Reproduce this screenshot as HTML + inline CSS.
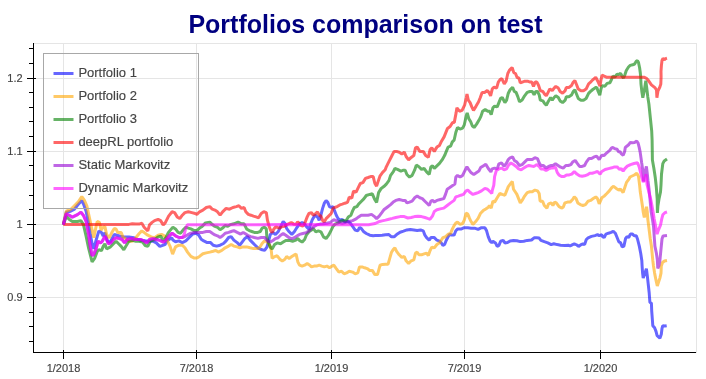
<!DOCTYPE html>
<html><head><meta charset="utf-8"><title>Portfolios comparison on test</title>
<style>html,body{margin:0;padding:0;background:#fff}svg{display:block}text{font-family:"Liberation Sans",Arial,Helvetica,sans-serif}</style></head><body>
<svg width="706" height="379" viewBox="0 0 706 379">
<rect width="706" height="379" fill="#fff"/>
<text x="365.5" y="32.9" text-anchor="middle" font-size="25px" font-weight="bold" fill="#000080">Portfolios comparison on test</text>
<g stroke="#e5e5e5" stroke-width="1" shape-rendering="crispEdges">
<line x1="63.5" y1="43.5" x2="63.5" y2="352.5"/>
<line x1="196.5" y1="43.5" x2="196.5" y2="352.5"/>
<line x1="331.5" y1="43.5" x2="331.5" y2="352.5"/>
<line x1="464.5" y1="43.5" x2="464.5" y2="352.5"/>
<line x1="600.5" y1="43.5" x2="600.5" y2="352.5"/>
<line x1="33.5" y1="78.5" x2="696.5" y2="78.5"/>
<line x1="33.5" y1="151.5" x2="696.5" y2="151.5"/>
<line x1="33.5" y1="224.5" x2="696.5" y2="224.5"/>
<line x1="33.5" y1="297.5" x2="696.5" y2="297.5"/>
<line x1="33.5" y1="43.5" x2="696.5" y2="43.5"/><line x1="696.5" y1="43.5" x2="696.5" y2="352.5"/>
</g>
<g fill="none" stroke-width="3" stroke-linejoin="bevel" stroke-linecap="butt">
<polyline stroke="rgba(0,0,255,0.6)" points="63.3,224.6 66.3,212.1 70.6,211.2 74.1,209.5 77.5,205.2 81.8,200.6 83.5,204.0 86.1,211.2 88.6,223.2 90.3,234.4 92.1,243.8 93.8,248.9 96.3,239.5 98.9,230.9 101.5,232.6 103.2,236.1 104.9,232.6 107.5,241.2 110.1,242.1 114.3,234.4 116.9,235.2 120.3,236.1 123.8,236.9 128.9,236.9 134.1,237.8 137.5,239.5 142.6,240.4 147.8,241.2 152.9,241.2 156.3,242.9 159.8,246.4 164.9,244.6 167.5,240.4 171.8,237.8 172.9,240.1 175.5,241.8 178.9,240.9 182.3,242.6 185.8,240.9 189.2,237.5 192.6,234.1 196.1,233.2 198.6,234.9 201.2,239.2 203.8,240.9 207.2,242.6 210.6,242.6 213.2,245.2 216.6,246.1 220.1,245.2 223.5,243.5 226.1,240.9 228.6,237.5 231.2,236.6 233.8,240.1 237.2,242.6 239.8,245.2 242.3,241.8 244.9,238.4 247.5,236.6 250.1,240.1 252.6,242.6 255.2,245.2 257.8,247.8 261.2,249.5 264.6,250.4 266.9,247.2 268.6,241.2 270.3,234.4 272.9,232.6 275.5,234.4 278.1,231.8 280.6,226.6 283.2,221.5 284.9,223.2 286.6,228.4 289.2,231.8 291.8,234.4 294.3,231.8 296.9,227.5 299.5,224.1 302.1,222.4 304.6,224.1 307.2,227.5 308.9,229.2 310.6,224.1 312.3,219.8 314.9,215.2 317.5,216.9 319.2,220.4 320.9,215.2 322.6,208.4 324.3,203.2 326.1,200.6 327.8,202.4 329.5,206.6 331.2,207.5 332.9,206.6 334.6,210.9 336.3,215.2 338.1,218.6 339.8,220.4 342.3,219.5 344.9,222.1 347.5,221.2 350.1,222.9 352.6,226.4 355.2,230.1 357.8,230.9 359.5,227.5 361.2,228.4 363.8,231.8 366.3,233.5 369.8,235.2 373.2,235.7 375.2,235.6 378.6,235.6 382.1,235.2 385.5,234.7 388.9,234.6 391.5,236.8 394.1,236.8 396.6,234.6 400.1,232.2 403.5,231.1 406.9,229.9 410.3,229.4 413.8,229.9 417.2,230.4 420.6,229.9 423.2,230.8 424.9,235.1 426.6,237.6 429.2,240.2 430.9,237.6 434.3,237.6 436.9,240.2 439.5,241.1 441.2,242.8 442.9,245.4 444.6,244.5 446.3,240.2 448.1,236.8 449.8,234.2 451.5,235.1 454.1,235.1 455.8,230.8 457.5,229.1 460.9,229.1 464.3,227.7 467.8,227.7 471.2,228.2 474.6,228.2 478.1,229.4 481.5,227.7 484.9,227.7 486.6,230.8 488.3,236.8 490.1,241.1 491.8,242.8 492.9,241.2 495.5,242.9 497.2,246.4 498.9,245.5 500.6,241.2 503.2,240.4 504.9,242.9 507.5,242.6 510.1,240.9 513.5,240.4 516.9,240.7 520.3,241.6 523.8,241.2 527.2,240.4 531.5,240.0 534.1,237.8 536.6,237.8 539.2,238.1 540.9,240.4 544.3,241.7 547.8,242.9 551.2,244.6 553.8,243.8 557.2,244.6 560.6,245.2 564.9,245.5 568.3,245.2 570.1,246.0 572.6,244.6 574.3,243.8 576.9,245.0 578.6,246.4 581.2,244.6 582.9,243.8 584.6,244.6 586.3,239.5 588.1,237.8 591.5,236.4 594.9,235.6 597.5,234.7 599.2,235.6 601.8,234.7 602.5,236.6 604.2,237.5 605.9,234.1 608.5,233.2 611.1,232.4 613.3,231.2 615.3,233.2 617.1,237.5 618.8,241.8 620.5,242.6 622.2,246.9 623.9,246.1 625.6,238.4 627.0,236.6 628.7,237.5 630.4,234.1 632.5,234.1 634.2,235.8 636.3,235.8 637.5,239.0 639.3,246.1 640.7,253.2 641.8,260.4 642.1,266.0 642.6,273.1 643.2,278.1 646.4,268.8 647.4,276.7 648.2,283.8 649.2,293.0 649.9,302.3 651.4,303.0 651.7,310.8 652.4,320.0 652.8,325.7 654.6,327.8 656.0,331.4 657.1,335.7 659.9,338.2 661.3,334.2 662.0,328.5 662.8,325.7 664.9,326.0 666.7,325.7"/>
<polyline stroke="rgba(255,165,0,0.6)" points="63.3,224.6 66.3,211.2 70.6,209.5 74.1,206.1 78.3,201.8 81.8,196.6 84.3,200.1 86.9,206.1 89.5,218.1 92.1,230.1 93.8,237.8 95.5,229.2 97.2,221.5 99.4,222.4 101.1,230.1 102.9,227.5 104.9,226.6 106.6,234.4 109.2,237.8 111.8,232.6 114.3,228.4 116.1,229.2 117.8,232.6 121.2,232.6 122.9,236.9 125.5,238.6 128.9,241.2 132.3,241.2 135.8,237.8 139.2,233.5 141.8,230.9 144.3,232.6 147.8,235.2 151.2,236.9 154.6,237.8 158.1,235.2 161.5,234.4 164.9,236.1 167.5,241.2 170.1,246.4 172.6,254.1 175.5,246.9 178.9,245.2 182.3,245.2 184.9,247.8 187.5,252.1 190.9,256.4 194.3,258.1 196.9,258.1 199.5,256.4 202.9,253.8 206.3,252.9 209.8,252.1 213.2,251.2 215.8,250.4 218.3,252.1 221.8,250.4 225.2,247.8 228.6,246.1 231.2,244.4 233.8,246.1 237.2,246.9 239.8,247.8 243.2,246.9 246.6,246.9 250.1,247.8 253.5,248.6 256.9,248.6 259.5,247.8 262.1,243.5 264.6,240.9 267.2,241.8 269.8,245.2 271.2,249.8 272.1,258.4 274.6,256.6 277.2,255.8 279.8,259.2 282.3,260.9 284.9,259.2 286.6,256.6 289.2,258.4 291.8,256.6 294.3,254.9 296.1,254.1 297.8,261.8 299.5,265.2 302.1,266.1 304.6,265.2 307.2,263.5 309.8,265.2 311.5,266.9 314.1,266.1 316.6,266.1 319.2,265.2 321.8,266.1 324.3,266.9 326.9,266.1 329.5,267.8 332.1,266.1 333.8,265.2 336.3,268.6 338.9,272.1 341.5,271.2 344.1,273.8 346.6,272.9 349.2,271.2 352.6,272.1 355.2,273.8 357.8,272.9 359.5,266.9 362.1,266.9 364.6,267.8 367.2,268.6 369.8,270.4 372.3,270.4 374.9,274.6 377.5,274.6 380.1,265.2 382.6,264.4 385.5,264.2 388.1,264.2 389.8,258.2 391.5,252.2 393.2,249.6 394.9,247.9 396.6,251.4 399.2,254.8 401.8,257.4 404.3,256.5 406.1,260.8 408.6,263.4 411.2,260.8 413.8,259.9 415.5,253.1 417.2,252.2 418.9,254.8 421.5,254.8 424.1,253.9 426.6,253.1 428.3,255.6 430.1,250.5 431.8,247.1 434.3,247.9 436.9,244.5 439.5,242.8 441.2,240.2 442.9,237.6 445.5,236.8 448.1,234.2 450.6,233.4 452.3,229.1 454.1,225.6 455.8,223.1 457.5,222.2 460.1,224.4 462.6,223.5 464.3,220.1 466.1,213.2 467.8,214.1 469.5,218.4 471.2,221.8 472.9,224.4 475.5,221.8 478.1,218.4 480.6,213.2 483.2,210.6 485.8,208.9 488.3,207.2 489.5,205.5 491.2,208.1 492.9,201.2 494.6,202.1 497.2,197.8 499.8,193.5 502.3,194.4 504.9,195.2 506.6,190.9 508.3,186.6 510.9,183.2 512.3,181.5 513.5,189.2 515.2,191.8 516.9,194.4 518.6,198.6 520.3,202.9 522.1,200.4 524.6,196.1 527.2,192.6 529.8,191.8 532.3,191.8 534.9,190.1 537.5,190.9 539.2,193.5 540.1,201.2 542.6,201.2 544.3,205.5 546.9,208.1 548.6,203.8 551.2,202.9 552.9,205.5 554.6,202.1 556.3,202.9 558.9,206.4 561.5,208.1 563.2,207.2 564.9,202.9 567.5,202.1 570.1,202.1 572.6,199.5 574.3,196.9 576.1,198.6 577.8,202.9 580.3,204.6 582.9,205.5 585.5,204.6 588.1,201.2 590.6,200.4 593.2,198.6 595.8,196.9 597.5,198.6 599.2,203.8 601.8,197.8 604.2,196.1 606.8,193.5 609.3,190.9 611.9,187.5 613.6,186.3 616.2,188.4 618.8,190.1 620.5,189.2 623.1,192.6 624.8,187.5 626.5,182.4 629.1,178.9 630.0,177.0 634.3,175.0 636.8,173.2 638.5,176.4 639.6,185.0 640.3,192.1 641.4,199.2 642.5,206.4 643.2,212.0 644.3,217.5 645.5,212.0 646.5,206.7 647.3,212.0 647.8,219.1 648.7,226.2 649.6,233.4 650.3,239.0 651.4,246.1 652.1,253.2 652.8,260.4 653.5,266.0 654.6,273.1 656.0,280.2 657.3,286.0 658.5,282.4 659.9,278.1 661.0,273.1 661.3,266.0 662.5,262.5 664.5,261.0 667.0,260.5"/>
<polyline stroke="rgba(0,128,0,0.6)" points="63.3,224.6 66.3,216.4 69.8,219.8 72.3,221.5 77.5,221.5 80.9,220.6 83.5,224.9 86.1,236.1 88.6,248.1 92.1,261.8 94.6,258.4 97.2,251.5 98.9,249.8 101.5,250.6 103.2,246.4 104.9,243.8 106.6,248.9 110.1,247.2 113.5,243.8 116.1,241.2 118.6,243.8 121.2,246.4 123.8,249.8 126.3,245.5 128.9,241.2 132.3,240.4 135.8,241.2 139.2,241.2 142.6,242.1 145.2,245.5 147.8,246.4 150.3,241.2 154.6,239.5 158.1,236.9 160.6,236.1 163.2,240.4 165.8,237.8 168.3,232.6 171.8,228.4 172.9,227.2 175.5,228.9 178.1,232.4 180.6,233.2 183.2,229.8 185.8,227.2 188.3,228.1 190.9,228.9 194.3,230.6 196.9,230.6 199.5,228.1 202.1,226.4 205.5,222.9 209.8,222.1 212.3,224.6 214.9,226.4 217.5,227.2 220.1,229.8 222.6,228.1 225.2,225.5 227.8,226.4 230.3,224.6 233.8,223.8 238.1,222.1 241.5,223.8 244.1,223.8 246.6,228.9 249.2,230.6 251.8,231.5 254.3,232.4 257.8,232.4 260.3,231.5 262.1,228.1 264.6,227.2 266.3,228.9 266.9,237.8 268.6,242.9 270.3,247.2 272.1,248.9 274.6,244.6 277.2,242.9 280.6,243.8 283.2,242.1 285.8,240.4 289.2,240.4 292.6,241.2 295.2,240.4 297.8,238.6 299.5,240.4 302.1,242.1 304.6,239.5 306.3,235.2 308.9,231.8 311.5,230.1 313.2,228.4 315.8,231.8 318.3,230.9 320.9,231.8 323.5,236.9 326.1,238.6 328.6,235.2 331.2,230.1 332.9,226.6 335.5,223.8 338.1,222.9 340.6,221.2 343.2,220.4 345.8,221.2 348.3,216.9 350.9,215.2 352.6,210.9 354.3,207.5 356.9,206.6 358.6,204.1 361.2,201.5 363.8,198.9 366.3,195.5 368.9,194.6 372.3,193.8 374.9,199.8 376.6,202.4 378.6,192.6 381.2,188.4 383.8,186.6 386.3,184.1 388.9,180.6 390.6,175.4 393.2,171.9 394.9,168.5 397.5,169.4 400.9,171.1 403.5,170.2 405.2,170.2 406.9,174.5 409.5,177.1 412.1,175.4 414.6,170.2 416.3,165.1 418.9,166.8 421.5,169.4 424.1,168.5 426.6,171.9 429.2,174.5 430.9,166.8 432.6,165.9 434.3,168.5 436.9,165.9 439.5,163.4 442.1,159.9 444.6,155.6 446.3,151.4 448.1,147.1 450.6,146.2 452.3,141.9 454.1,140.2 455.8,132.5 457.5,127.4 460.1,129.1 462.6,128.2 464.3,124.8 466.3,115.5 467.2,112.9 468.9,118.9 470.6,121.5 472.3,125.8 474.1,127.5 476.6,124.1 479.2,119.8 480.9,116.4 482.6,111.2 485.2,109.5 487.8,111.2 489.5,111.2 491.2,114.6 492.9,107.8 494.6,106.1 497.2,106.9 498.9,102.6 500.6,98.4 502.3,97.5 504.9,102.6 506.6,100.1 508.3,93.2 510.1,89.8 512.6,87.2 514.3,91.5 516.1,92.4 517.8,96.6 519.5,101.8 522.1,100.1 524.6,95.8 527.2,92.4 529.8,91.5 532.3,91.5 534.1,94.9 535.8,91.5 537.5,91.5 539.2,94.9 540.3,100.1 542.9,100.9 544.6,103.5 546.3,105.2 548.1,101.8 550.6,97.5 552.3,100.1 554.1,97.5 555.8,95.8 558.3,97.5 560.1,100.9 562.6,102.6 565.2,100.1 566.3,96.8 568.9,96.8 571.5,95.1 573.2,91.6 574.9,89.9 576.6,94.2 578.3,98.5 580.9,100.2 583.5,100.2 586.1,98.5 588.6,93.4 590.3,91.6 592.8,89.5 595.7,87.6 596.8,87.4 598.2,91.5 599.8,95.2 601.0,89.0 602.0,85.7 605.0,86.2 607.1,83.4 609.9,82.7 611.4,79.8 612.8,76.2 614.9,77.0 617.1,74.1 618.8,74.5 620.6,73.4 622.1,76.2 623.5,78.0 624.9,74.8 626.3,70.5 628.5,67.0 630.2,65.4 632.7,64.8 634.6,64.0 636.1,61.4 637.5,60.7 638.5,62.5 639.6,67.8 640.3,72.8 640.7,77.0 641.0,84.1 641.8,91.2 642.8,97.7 644.2,91.2 645.3,84.1 645.8,80.6 646.7,87.7 647.8,96.9 648.9,104.0 650.3,117.5 651.7,131.0 652.1,140.0 652.4,160.0 653.9,168.5 655.3,177.8 656.3,187.0 657.2,199.0 657.4,213.0 657.9,206.0 659.0,199.0 660.5,192.0 661.0,185.0 661.5,174.2 662.8,163.6 664.2,161.0 667.0,159.0"/>
<polyline stroke="rgba(255,0,0,0.6)" points="63.3,224.4 128.9,224.4 132.3,223.7 135.8,224.1 139.2,224.1 141.8,223.2 144.3,227.5 147.8,230.9 149.5,224.9 152.1,222.4 154.6,220.6 158.1,219.3 160.6,220.6 163.2,224.9 165.2,222.9 168.6,216.1 172.1,211.8 174.6,212.6 177.2,216.9 179.8,218.6 182.3,215.2 184.9,212.6 188.3,211.8 191.8,212.6 195.2,213.5 196.9,214.4 199.5,211.8 202.9,210.1 206.3,207.5 209.8,206.6 212.3,209.2 214.9,210.1 217.5,211.8 220.1,215.2 222.6,211.8 226.1,208.4 229.5,209.2 232.9,207.5 236.3,206.6 238.9,205.8 241.5,208.4 244.1,207.5 245.8,211.8 248.3,214.4 250.9,215.2 253.5,216.1 256.1,216.9 258.6,217.8 261.2,213.5 263.8,211.8 266.3,212.6 267.5,220.5 269.2,226.4 270.9,231.1 272.2,232.4 273.9,229.0 275.6,226.9 277.3,227.3 279.4,228.1 281.5,226.9 284.1,226.4 286.6,224.7 289.2,223.5 291.3,222.6 293.4,223.9 296.0,224.3 297.7,221.8 299.4,223.5 301.1,225.6 302.8,226.0 304.5,223.9 305.8,220.5 307.2,216.9 308.9,213.5 311.5,212.6 313.2,215.2 314.9,214.4 317.5,211.8 319.2,215.2 320.9,216.1 322.6,220.4 324.3,222.1 326.1,218.6 328.6,216.1 331.2,213.5 332.9,208.4 334.6,207.5 337.2,206.6 339.8,204.9 342.3,204.1 344.9,203.2 347.5,202.4 349.2,197.2 351.8,198.1 353.5,191.2 356.1,192.1 358.6,186.9 360.3,183.5 362.9,182.6 365.5,178.4 368.1,177.5 370.6,176.6 373.2,176.6 374.9,183.5 376.6,186.1 378.3,180.9 380.1,175.8 382.6,172.4 385.2,169.8 386.3,166.8 388.9,161.6 391.5,156.5 394.1,151.4 396.6,151.4 399.2,152.2 401.8,153.9 404.3,152.2 406.1,156.5 408.6,159.9 411.2,157.4 413.8,155.6 415.5,147.9 417.2,147.1 419.8,151.4 423.2,151.4 425.8,155.6 428.3,157.4 430.1,149.6 431.8,147.9 434.3,151.4 436.9,147.1 439.5,145.4 441.5,141.2 444.1,136.9 445.8,132.6 447.5,128.4 450.1,126.6 452.6,122.4 454.3,122.4 456.1,112.9 456.9,107.8 459.5,111.2 462.1,110.4 464.6,105.2 466.3,97.5 467.0,94.1 468.3,100.1 470.1,102.6 471.8,106.9 473.5,110.4 476.1,106.1 478.6,101.8 480.3,97.5 482.1,92.4 484.6,92.4 487.2,90.6 488.9,92.4 490.6,95.8 492.3,88.9 494.1,87.2 496.6,88.1 498.3,82.1 500.1,79.5 501.8,78.6 504.3,83.8 506.1,81.2 507.8,73.5 509.5,70.1 512.1,67.5 513.8,72.6 515.5,73.5 517.2,77.8 518.9,77.8 520.3,82.9 522.3,82.1 524.9,81.2 527.5,81.2 530.1,82.1 531.8,82.1 533.5,86.4 535.2,82.1 536.9,82.1 538.6,85.5 540.3,90.6 542.9,91.5 544.6,94.1 546.3,95.8 548.1,92.4 549.8,88.9 552.3,90.6 554.1,88.1 555.8,86.4 558.3,88.1 560.1,91.5 562.6,93.2 565.2,90.6 566.3,87.4 568.9,87.4 571.5,85.6 573.2,82.2 574.9,80.5 576.6,84.8 578.3,89.1 580.9,90.8 583.5,90.8 586.1,89.1 588.6,83.9 590.0,82.7 592.8,79.8 595.7,77.3 597.8,81.2 600.0,86.2 601.0,79.8 602.1,75.2 604.2,76.2 606.4,77.2 644.0,77.2 646.4,78.3 648.5,80.6 651.4,84.8 654.9,87.7 656.5,89.8 656.9,97.7 657.9,91.2 659.6,87.7 660.8,84.1 661.1,77.0 661.0,71.4 661.4,65.7 662.0,60.5 663.0,58.5 664.5,59.8 665.6,58.6 667.0,58.2"/>
<polyline stroke="rgba(148,0,211,0.6)" points="63.3,224.6 66.3,213.8 69.8,215.5 72.3,217.2 77.5,214.6 80.9,212.1 83.5,215.5 86.1,221.5 88.6,234.4 90.3,246.4 92.1,255.8 93.8,254.1 96.3,248.1 98.1,241.2 100.6,242.9 102.3,241.2 104.9,236.1 106.6,239.5 108.3,243.8 110.9,242.9 113.5,239.5 116.1,237.8 119.5,238.6 122.1,239.5 124.6,242.9 127.2,239.5 130.6,238.6 135.8,239.5 140.9,239.5 144.3,241.2 146.9,242.9 149.5,239.5 152.9,238.6 156.3,239.5 159.8,240.4 163.2,242.1 165.2,240.9 168.6,236.6 172.1,233.2 175.5,235.8 178.9,237.5 182.3,237.5 184.9,236.6 187.5,234.9 190.9,233.2 194.3,232.4 196.9,232.4 199.5,232.4 202.9,232.4 206.3,231.5 209.8,231.5 212.3,233.2 214.9,234.9 217.5,235.8 220.1,237.5 222.6,235.8 225.2,233.2 228.6,232.4 231.2,231.5 233.8,230.6 237.2,232.4 240.6,234.1 243.2,232.4 245.8,234.1 248.3,235.8 250.9,236.6 254.3,237.5 257.8,238.4 261.2,237.5 264.6,237.5 267.8,241.2 270.3,242.1 272.9,240.4 275.5,238.6 278.1,237.8 280.6,235.2 283.2,233.5 285.8,235.2 289.2,237.8 291.8,238.6 294.3,237.8 296.9,236.1 299.5,234.4 302.9,233.5 306.3,232.6 308.9,230.9 311.5,228.4 314.1,226.6 316.6,224.9 320.1,224.1 323.5,223.7 326.9,223.2 330.3,222.4 333.8,219.8 336.3,220.6 338.9,222.4 342.3,223.2 345.8,222.4 349.2,221.5 352.6,220.6 356.1,218.9 358.6,216.9 361.2,215.2 364.6,215.2 368.1,215.2 371.5,214.4 374.9,216.9 376.6,218.6 379.2,216.1 381.8,212.6 383.8,209.8 387.2,207.2 390.6,204.6 393.2,202.1 395.8,200.4 399.2,199.5 402.6,200.4 405.2,200.4 406.9,202.9 409.5,202.1 412.1,201.2 414.6,197.8 417.2,196.1 419.8,197.8 422.3,198.6 424.9,201.2 427.5,203.8 429.2,205.5 430.9,201.2 432.6,200.4 434.3,202.1 436.9,200.4 440.3,199.5 443.8,198.6 445.5,194.4 447.2,189.2 449.8,187.5 452.3,185.8 454.9,184.1 455.8,177.1 457.5,175.4 460.1,177.1 462.6,175.4 464.3,171.9 466.9,166.8 468.6,169.4 471.2,172.8 473.8,174.5 476.3,172.8 478.9,171.1 480.6,167.6 483.2,165.9 485.8,164.2 488.3,168.5 490.9,171.9 492.1,168.9 494.6,168.1 497.2,168.9 498.9,163.8 501.5,162.9 504.1,166.4 506.6,162.9 508.3,159.5 510.1,157.8 512.6,156.9 514.3,160.4 516.9,162.1 519.5,165.5 522.1,164.6 524.6,162.1 527.2,159.5 529.8,159.5 532.3,159.5 534.9,157.8 537.5,158.6 539.2,162.9 540.9,165.5 543.5,165.5 546.1,168.1 548.6,166.4 551.2,165.5 552.9,165.5 555.5,163.8 558.1,165.5 560.6,167.2 563.2,168.1 565.8,165.5 568.3,165.5 570.9,164.6 572.6,162.1 575.2,160.4 576.9,162.9 579.5,166.4 582.1,166.4 584.6,165.5 586.3,162.1 588.9,158.6 591.5,158.6 594.1,156.9 596.6,156.1 599.2,159.5 601.8,155.2 604.2,155.4 606.8,152.8 610.0,150.2 611.4,148.1 612.8,147.4 615.0,148.8 617.1,149.2 618.5,151.7 620.0,151.7 621.4,153.8 623.2,155.2 624.6,151.7 625.3,147.4 627.1,146.0 628.9,144.5 630.3,142.4 632.1,142.8 634.6,142.4 636.7,141.0 638.1,143.1 639.2,147.4 640.2,152.4 641.0,158.0 641.7,163.0 642.6,169.0 643.4,178.0 643.6,181.5 645.0,172.0 646.4,166.4 647.3,174.0 648.0,181.0 648.9,188.0 650.0,199.2 651.2,212.0 652.4,219.1 653.5,226.2 654.4,239.0 654.9,246.1 656.4,253.2 657.4,260.4 657.8,268.5 658.8,266.0 659.9,260.4 660.6,253.2 661.3,246.1 662.0,239.0 663.0,236.0 667.0,235.5"/>
<polyline stroke="rgba(255,0,255,0.6)" points="63.3,224.6 66.3,213.8 69.8,215.5 72.3,217.2 77.5,214.6 80.9,212.1 83.5,215.5 86.1,221.5 88.6,234.4 90.3,246.4 92.1,255.8 93.8,254.1 96.3,248.1 98.1,241.2 100.6,242.9 102.3,241.2 104.9,236.1 106.6,239.5 108.3,243.8 110.9,242.9 113.5,239.5 116.1,237.8 119.5,238.6 122.1,239.5 124.6,242.9 127.2,239.5 130.6,238.6 135.8,239.5 140.9,239.5 144.3,241.2 146.9,242.9 149.5,239.5 152.9,238.6 156.3,239.5 159.8,240.4 163.2,242.1 165.2,240.9 168.6,236.6 172.1,233.2 175.5,235.8 178.9,237.5 182.3,237.5 184.2,234.6 185.9,227.7 187.5,224.8 285.2,224.6 368.6,224.7 375.2,223.5 378.6,221.8 382.1,220.9 385.5,220.1 388.9,219.2 392.3,218.4 395.8,217.5 400.1,216.6 404.3,216.6 407.8,218.0 411.2,217.5 414.6,216.6 418.1,216.3 421.5,216.6 424.9,217.5 427.5,218.4 430.1,219.2 432.6,215.8 434.3,211.5 436.9,209.8 440.3,208.9 443.8,208.1 447.2,205.5 450.6,202.9 454.1,200.4 455.8,196.9 458.3,196.1 460.9,195.2 463.5,194.4 466.1,190.9 467.8,190.1 470.3,192.6 472.9,194.4 475.5,193.5 478.1,192.6 481.5,190.9 484.9,188.4 487.5,189.2 490.1,191.8 491.8,193.5 492.1,191.2 493.8,185.2 494.6,176.6 496.3,170.6 498.9,168.9 501.5,168.1 504.1,169.8 506.6,168.9 508.3,165.5 510.9,162.9 513.5,164.6 516.1,166.4 518.6,168.9 521.2,169.8 523.8,168.1 526.3,166.4 528.9,165.5 531.5,166.0 534.1,166.4 536.6,164.6 539.2,166.4 540.9,168.9 543.5,168.9 546.1,170.6 548.6,168.9 551.2,168.1 552.9,168.1 555.5,167.2 557.2,172.4 558.9,174.9 561.5,176.6 564.1,176.6 566.6,174.9 569.2,174.9 571.8,174.1 574.3,171.5 576.9,174.1 579.5,175.8 582.1,176.3 584.6,175.8 587.2,174.9 589.8,173.2 592.3,173.2 594.9,172.4 597.5,171.5 600.1,174.1 601.8,171.5 605.1,169.5 608.5,168.6 611.9,167.8 614.5,166.9 617.1,166.9 619.6,169.5 621.3,168.6 623.1,171.2 624.8,168.6 627.3,166.1 630.5,164.6 634.0,163.5 637.5,162.8 639.2,167.0 640.5,172.0 641.7,177.0 643.2,182.0 644.5,180.0 646.0,174.2 647.1,185.0 648.9,192.1 650.7,199.2 652.1,206.4 653.1,212.0 654.2,219.1 655.6,226.2 657.1,234.1 658.5,229.8 660.6,224.8 661.7,219.1 662.8,214.8 664.9,212.7 667.0,212.0"/>
</g>
<rect x="43.5" y="53.5" width="155" height="155" fill="none" stroke="#a8a8a8" stroke-width="1" shape-rendering="crispEdges"/>
<line x1="53.5" y1="73.5" x2="73.5" y2="73.5" stroke="rgba(0,0,255,0.6)" stroke-width="3"/>
<text x="78.4" y="76.9" font-size="13px" fill="#444" stroke="#444" stroke-width="0.15">Portfolio 1</text>
<line x1="53.5" y1="96.5" x2="73.5" y2="96.5" stroke="rgba(255,165,0,0.6)" stroke-width="3"/>
<text x="78.4" y="99.9" font-size="13px" fill="#444" stroke="#444" stroke-width="0.15">Portfolio 2</text>
<line x1="53.5" y1="119.5" x2="73.5" y2="119.5" stroke="rgba(0,128,0,0.6)" stroke-width="3"/>
<text x="78.4" y="122.9" font-size="13px" fill="#444" stroke="#444" stroke-width="0.15">Portfolio 3</text>
<line x1="53.5" y1="142.5" x2="73.5" y2="142.5" stroke="rgba(255,0,0,0.6)" stroke-width="3"/>
<text x="78.4" y="145.9" font-size="13px" fill="#444" stroke="#444" stroke-width="0.15">deepRL portfolio</text>
<line x1="53.5" y1="165.5" x2="73.5" y2="165.5" stroke="rgba(148,0,211,0.6)" stroke-width="3"/>
<text x="78.4" y="168.9" font-size="13px" fill="#444" stroke="#444" stroke-width="0.15">Static Markovitz</text>
<line x1="53.5" y1="188.5" x2="73.5" y2="188.5" stroke="rgba(255,0,255,0.6)" stroke-width="3"/>
<text x="78.4" y="191.9" font-size="13px" fill="#444" stroke="#444" stroke-width="0.15">Dynamic Markovitz</text>
<g stroke="#000" stroke-width="1" shape-rendering="crispEdges">
<line x1="33.5" y1="43.0" x2="33.5" y2="353.0"/><line x1="33.0" y1="352.5" x2="696.0" y2="352.5"/>
<line x1="63.5" y1="350.0" x2="63.5" y2="359.0"/>
<line x1="196.5" y1="350.0" x2="196.5" y2="359.0"/>
<line x1="331.5" y1="350.0" x2="331.5" y2="359.0"/>
<line x1="464.5" y1="350.0" x2="464.5" y2="359.0"/>
<line x1="600.5" y1="350.0" x2="600.5" y2="359.0"/>
<line x1="27.0" y1="78.5" x2="36.0" y2="78.5"/>
<line x1="27.0" y1="151.5" x2="36.0" y2="151.5"/>
<line x1="27.0" y1="224.5" x2="36.0" y2="224.5"/>
<line x1="27.0" y1="297.5" x2="36.0" y2="297.5"/>
<line x1="29.0" y1="341.5" x2="33.5" y2="341.5"/>
<line x1="29.0" y1="326.5" x2="33.5" y2="326.5"/>
<line x1="29.0" y1="312.5" x2="33.5" y2="312.5"/>
<line x1="29.0" y1="282.5" x2="33.5" y2="282.5"/>
<line x1="29.0" y1="268.5" x2="33.5" y2="268.5"/>
<line x1="29.0" y1="253.5" x2="33.5" y2="253.5"/>
<line x1="29.0" y1="238.5" x2="33.5" y2="238.5"/>
<line x1="29.0" y1="209.5" x2="33.5" y2="209.5"/>
<line x1="29.0" y1="195.5" x2="33.5" y2="195.5"/>
<line x1="29.0" y1="180.5" x2="33.5" y2="180.5"/>
<line x1="29.0" y1="165.5" x2="33.5" y2="165.5"/>
<line x1="29.0" y1="136.5" x2="33.5" y2="136.5"/>
<line x1="29.0" y1="121.5" x2="33.5" y2="121.5"/>
<line x1="29.0" y1="107.5" x2="33.5" y2="107.5"/>
<line x1="29.0" y1="92.5" x2="33.5" y2="92.5"/>
<line x1="29.0" y1="63.5" x2="33.5" y2="63.5"/>
<line x1="29.0" y1="48.5" x2="33.5" y2="48.5"/>
</g>
<g font-size="11px" fill="#444" stroke="#444" stroke-width="0.15">
<text x="63.5" y="371.9" text-anchor="middle">1/2018</text>
<text x="196.5" y="371.9" text-anchor="middle">7/2018</text>
<text x="331.5" y="371.9" text-anchor="middle">1/2019</text>
<text x="464.5" y="371.9" text-anchor="middle">7/2019</text>
<text x="600.5" y="371.9" text-anchor="middle">1/2020</text>
<text x="22.6" y="82.4" text-anchor="end">1.2</text>
<text x="22.6" y="155.4" text-anchor="end">1.1</text>
<text x="22.6" y="228.4" text-anchor="end">1</text>
<text x="22.6" y="301.4" text-anchor="end">0.9</text>
</g>
</svg></body></html>
